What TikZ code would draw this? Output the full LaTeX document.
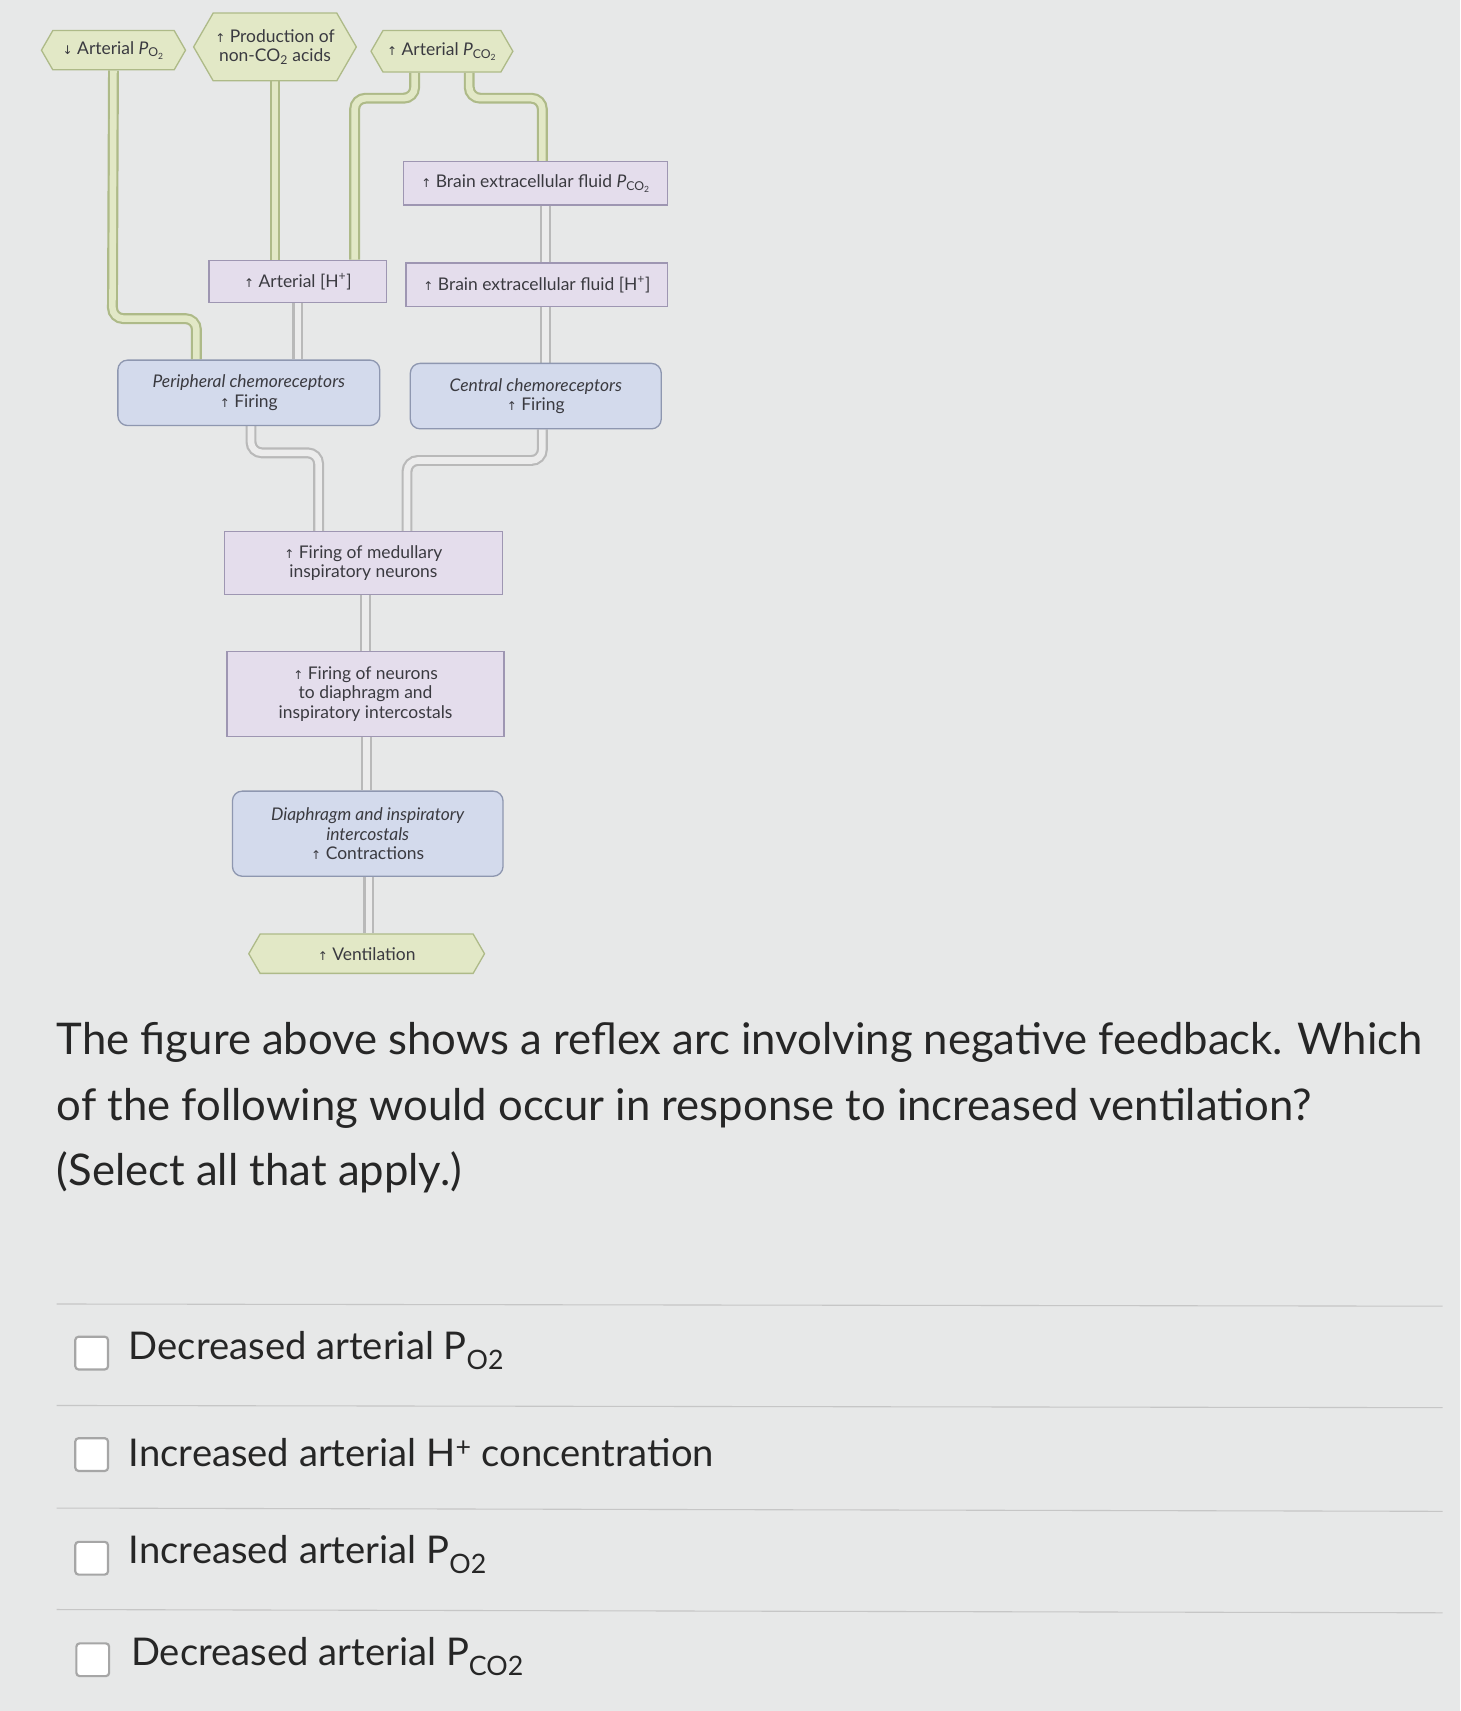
\documentclass[tikz,border=0pt]{standalone}
\usepackage{fontspec}
\setmainfont{Lato}
\newfontfamily\dv{DejaVu Sans}
\usetikzlibrary{shapes.symbols,backgrounds}
\definecolor{bgc}{HTML}{E7E8E8}
\definecolor{gfill}{HTML}{E2E8C6}
\definecolor{gdraw}{HTML}{AEBA88}
\definecolor{pfill}{HTML}{E4DDEC}
\definecolor{pdraw}{HTML}{9E96B2}
\definecolor{bfill}{HTML}{D3DAEC}
\definecolor{bdraw}{HTML}{8E97B0}
\definecolor{txt}{HTML}{3A3A40}
\newcommand{\up}{{\dv\fontsize{11}{11}\selectfont ↑}}
\newcommand{\dn}{{\dv\fontsize{11}{11}\selectfont ↓}}
\tikzset{
  tag/.style={signal, signal to=west and east, signal pointer angle=120, fill=gfill, draw=gdraw, line width=1.2pt, font=\fontsize{16}{18}\selectfont, text=txt, align=center, inner sep=2pt},
  sqbox/.style={rectangle, fill=pfill, draw=pdraw, line width=1.2pt, font=\fontsize{16}{18}\selectfont, text=txt, align=center, inner sep=2pt},
  rbox/.style={rectangle, rounded corners=9pt, fill=bfill, draw=bdraw, line width=1.2pt, font=\fontsize{16}{18}\selectfont, text=txt, align=center, inner sep=2pt},
  gpipe/.style={draw=gdraw, double=gfill, line width=2pt, double distance=6pt, rounded corners=10pt},
  ppipe/.style={draw=gray!55, double=gray!15, line width=2pt, double distance=6pt, rounded corners=10pt},
  qtext/.style={font=\fontsize{40}{42}\selectfont, text=black!85, anchor=west, inner sep=0pt},
  otext/.style={font=\fontsize{35}{37}\selectfont, text=black!85, anchor=west, inner sep=0pt},
  sep/.style={draw=gray!45, line width=1pt},
  cbox/.style={draw=gray!70, fill=white, line width=2pt, rounded corners=3pt, minimum size=30pt, inner sep=0pt}
}
\begin{document}
\begin{tikzpicture}[x=1pt,y=-1pt]
\begin{scope}[on background layer]
\fill[bgc] (0,0) rectangle (1338,1568);
\end{scope}
\useasboundingbox (0,0) rectangle (1338,1568);

\node[tag, minimum width=132pt, minimum height=36pt] (po2) at (104,46) {\dn\ Arterial \textit{P}\textsubscript{O\textsubscript{2}}};
\node[tag, minimum width=145pt, minimum height=62pt] (acid) at (252,43) {\up\ Production of\\non-CO\textsubscript{2} acids};
\node[tag, minimum width=130pt, minimum height=38pt] (pco2) at (405,47) {\up\ Arterial \textit{P}\textsubscript{CO\textsubscript{2}}};
\node[sqbox, minimum width=242pt, minimum height=40pt] (bpco2) at (491,168) {\up\ Brain extracellular fluid \textit{P}\textsubscript{CO\textsubscript{2}}};
\node[sqbox, minimum width=163pt, minimum height=39pt] (ah) at (273,258) {\up\ Arterial [H\textsuperscript{+}]};
\node[sqbox, minimum width=240pt, minimum height=40pt] (bh) at (492,261) {\up\ Brain extracellular fluid [H\textsuperscript{+}]};
\node[rbox, minimum width=240pt, minimum height=60pt] (pc) at (228,360) {\textit{Peripheral chemoreceptors}\\\up\ Firing};
\node[rbox, minimum width=230pt, minimum height=60pt] (cc) at (491,363) {\textit{Central chemoreceptors}\\\up\ Firing};
\node[sqbox, minimum width=255pt, minimum height=58pt] (med) at (333,516) {\up\ Firing of medullary\\inspiratory neurons};
\node[sqbox, minimum width=254pt, minimum height=78pt] (neu) at (335,636) {\up\ Firing of neurons\\to diaphragm and\\inspiratory intercostals};
\node[rbox, minimum width=248pt, minimum height=78pt] (dia) at (337,764) {\textit{Diaphragm and inspiratory}\\\textit{intercostals}\\\up\ Contractions};
\node[tag, minimum width=216pt, minimum height=36pt] (ven) at (336,874) {\up\ Ventilation};

\begin{scope}[on background layer]
\draw[gpipe] (po2.south) -- (103,292) -- (180,292) -- (pc.north -| 180,0);
\draw[gpipe] (acid.south) -- (ah.north -| 252,0);
\draw[gpipe] ([xshift=-25pt]pco2.south) -- (380,90) -- (325,90) -- (ah.north -| 325,0);
\draw[gpipe] ([xshift=25pt]pco2.south) -- (430,90) -- (497,90) -- (bpco2.north -| 497,0);
\draw[ppipe] (bpco2.south -| 500,0) -- (bh.north -| 500,0);
\draw[ppipe] (ah.south) -- (pc.north -| ah.south);
\draw[ppipe] (bh.south -| 500,0) -- (cc.north -| 500,0);
\draw[ppipe] (pc.south -| 230,0) -- (230,415) -- (292,415) -- (med.north -| 292,0);
\draw[ppipe] (cc.south -| 497,0) -- (497,422) -- (373,422) -- (med.north -| 373,0);
\draw[ppipe] (med.south -| 335,0) -- (neu.north -| 335,0);
\draw[ppipe] (neu.south -| 336,0) -- (dia.north -| 336,0);
\draw[ppipe] (dia.south -| 338,0) -- (ven.north -| 338,0);
\end{scope}

\node[qtext] (q1) at (52,955) {The figure above shows a reflex arc involving negative feedback. Which};
\node[qtext] (q2) at (52,1016) {of the following would occur in response to increased ventilation?};
\node[qtext] (q3) at (52,1074) {(Select all that apply.)};

\draw[sep] (52,1195) -- (1322,1197);
\draw[sep] (52,1288) -- (1322,1290);
\draw[sep] (52,1382) -- (1322,1385);
\draw[sep] (52,1475) -- (1322,1478);

\node[cbox] (c1) at (84,1240) {};
\node[cbox] (c2) at (84,1333) {};
\node[cbox] (c3) at (84,1428) {};
\node[cbox] (c4) at (85,1521) {};
\node[otext] (o1) at (118,1238) {Decreased arterial P\textsubscript{O2}};
\node[otext] (o2) at (118,1331) {Increased arterial H\textsuperscript{+} concentration};
\node[otext] (o3) at (118,1425) {Increased arterial P\textsubscript{O2}};
\node[otext] (o4) at (120,1518) {Decreased arterial P\textsubscript{CO2}};
\end{tikzpicture}
\end{document}
